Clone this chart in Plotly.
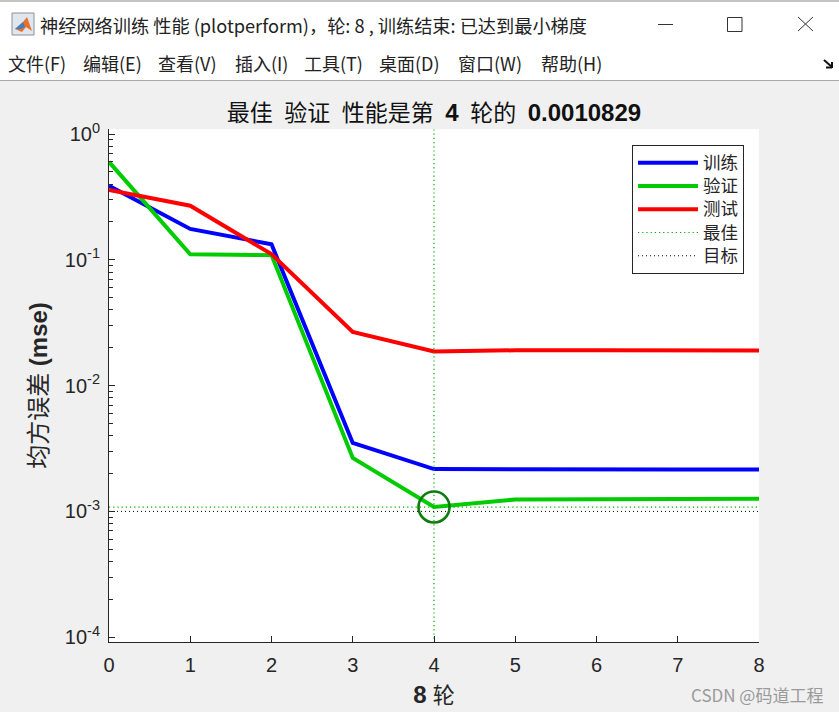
import plotly.graph_objects as go

epochs = [0, 1, 2, 3, 4, 5, 6, 7, 8]
train_mse = [0.388, 0.176, 0.133, 0.0035, 0.00217, 0.00215, 0.00215, 0.00215, 0.00215]
val_mse = [0.60, 0.1106, 0.109, 0.00266, 0.0010829, 0.001245, 0.00125, 0.00126, 0.00126]
test_mse = [0.359, 0.269, 0.111, 0.0267, 0.01867, 0.0191, 0.0191, 0.019, 0.019]
best_epoch = 4
best_perf = 0.0010829
goal = 0.001

y_major = [1, 0.1, 0.01, 0.001, 0.0001]
y_exponents = ["0", "-1", "-2", "-3", "-4"]
y_minor = [m * d for d in y_major[1:] for m in range(2, 10)]

window_title = "神经网络训练 性能 (plotperform)，轮: 8 , 训练结束: 已达到最小梯度"
menu_items = ["文件(F)", "编辑(E)", "查看(V)", "插入(I)", "工具(T)", "桌面(D)", "窗口(W)", "帮助(H)"]
menu_x = [8, 83, 158, 235, 304, 379, 458, 541]

W, H = 839, 712
L, R, T, B = 109, 80, 129, 70
CJK = "Noto Sans CJK SC"
SANS = "Liberation Sans, Noto Sans CJK SC"
INK = "#262626"
BG = "#f0f0f0"

y_labels = [f'10<sup><span style="font-size:14.5px">{e}</span></sup>' for e in y_exponents]


def px(x):
    return (x - L) / (W - L - R)


def py(y):
    return 1 - (y - T) / (H - T - B)


def box(x0, y0, x1, y1, **kw):
    return dict(type="rect", xref="paper", yref="paper", layer="below",
                x0=px(x0), x1=px(x1), y0=py(y0), y1=py(y1), **kw)


def seg(x0, y0, x1, y1, color="#333333", width=1):
    return dict(type="line", xref="paper", yref="paper",
                x0=px(x0), x1=px(x1), y0=py(y0), y1=py(y1),
                line=dict(color=color, width=width))


def label(x, y, text, size=18, color="#222222", anchor="left"):
    return dict(xref="paper", yref="paper", x=px(x), y=py(y), text=text, showarrow=False,
                xanchor=anchor, yanchor="middle", font=dict(family=CJK, size=size, color=color))


def big(text):
    return f'<span style="font-size:24px"><b>{text}</b></span>'


def entry(text):
    return f'<span style="font-size:17.5px">{text}</span>'


fig = go.Figure()
fig.add_trace(go.Scatter(x=epochs, y=train_mse, mode="lines", name=entry("训练"), line=dict(color="#0000ff", width=4)))
fig.add_trace(go.Scatter(x=epochs, y=val_mse, mode="lines", name=entry("验证"), line=dict(color="#00cc00", width=4)))
fig.add_trace(go.Scatter(x=epochs, y=test_mse, mode="lines", name=entry("测试"), line=dict(color="#ff0000", width=4)))
fig.add_trace(go.Scatter(
    x=[epochs[0], epochs[-1], None, best_epoch, best_epoch],
    y=[best_perf, best_perf, None, y_major[-1] * 0.9, y_major[0] * 1.1],
    mode="lines", name=entry("最佳"), line=dict(color="#00a800", width=1.2, dash="1.2px,3px"),
))
fig.add_trace(go.Scatter(
    x=[epochs[0], epochs[-1]], y=[goal, goal],
    mode="lines", name=entry("目标"), line=dict(color="#000000", width=1, dash="1px,3px"),
))
fig.add_trace(go.Scatter(
    x=[best_epoch], y=[best_perf], mode="markers", showlegend=False,
    marker=dict(symbol="circle-open", size=31, color="#0b7d0b", line=dict(color="#0b7d0b", width=2.6)),
))

shapes = [
    box(0, 0, W, 2, fillcolor="#c4c4c4", line_width=0),
    box(0, 2, W, 80, fillcolor="#ffffff", line_width=0),
    box(0, 80, W, 81, fillcolor="#a8a8a8", line_width=0),
    # matlab icon
    box(12, 13, 34, 35, fillcolor="#dfe6ee", line=dict(color="#8a9099", width=1)),
    dict(type="path", xref="paper", yref="paper",
         path=f"M {px(15)} {py(29)} L {px(23)} {py(22)} L {px(27)} {py(17)} L {px(32)} {py(31)} L {px(26)} {py(27)} L {px(22)} {py(32)} Z",
         fillcolor="#e8702a", line_width=0),
    dict(type="path", xref="paper", yref="paper",
         path=f"M {px(15)} {py(29)} L {px(23)} {py(22)} L {px(25)} {py(27)} L {px(21)} {py(29)} Z",
         fillcolor="#3d7fc1", line_width=0),
    # window buttons
    seg(658, 24.5, 673, 24.5),
    dict(type="rect", xref="paper", yref="paper", x0=px(727.5), x1=px(742), y0=py(17.5), y1=py(31.5),
         line=dict(color="#333333", width=1)),
    seg(798, 17, 813, 31),
    seg(813, 17, 798, 31),
    # resize arrow in the toolbar corner
    seg(824, 60, 832, 67, color="#111111", width=2),
    seg(832, 62, 832, 68, color="#111111", width=2),
    seg(826, 67.5, 832, 67.5, color="#111111", width=2),
]

annotations = [label(38, 25, window_title, size=18.2)]
annotations += [label(x - 2, 63, t, size=18) for x, t in zip(menu_x, menu_items)]
annotations.append(label(825, 694, "CSDN @码道工程", size=17, color="#9a9a9a", anchor="right"))

fig.update_layout(
    width=W,
    height=H,
    margin=dict(l=L, r=R, t=T, b=B, pad=0),
    paper_bgcolor=BG,
    plot_bgcolor="#ffffff",
    shapes=shapes,
    annotations=annotations,
    title=dict(
        text=f"最佳\u2002验证\u2002性能是第\u2002{big('4')}\u2002轮的\u2002{big('0.0010829')}",
        x=0.5, xref="paper", xanchor="center", y=1 - 113 / H, yanchor="middle",
        font=dict(family=SANS, size=23, color="#111111"),
    ),
    legend=dict(
        x=px(632), y=py(145), xanchor="left", yanchor="top",
        bgcolor="#ffffff", bordercolor=INK, borderwidth=1,
        itemwidth=60, font=dict(family=CJK, size=15.6, color=INK),
    ),
    xaxis=dict(
        automargin=False,
        range=[0, 8], tickvals=epochs, ticks="inside", ticklen=6, tickcolor=INK, tickwidth=1,
        showgrid=False, zeroline=False, showline=True, linecolor=INK, linewidth=1,
        tickfont=dict(family=SANS, size=20, color=INK), ticklabelstandoff=5,
        title=dict(text=f"{big('8')} 轮", standoff=12, font=dict(family=SANS, size=22, color=INK)),
    ),
    yaxis=dict(
        automargin=False,
        type="log", range=[-4.038, 0.04], tickvals=y_major, ticktext=y_labels,
        ticks="inside", ticklen=6, tickcolor=INK, tickwidth=1,
        minor=dict(tickvals=y_minor, ticks="inside", ticklen=3.5, tickcolor=INK, tickwidth=1, showgrid=False),
        showgrid=False, zeroline=False, showline=True, linecolor=INK, linewidth=1,
        tickfont=dict(family=SANS, size=20, color=INK), ticklabelstandoff=4,
        title=dict(text=f"均方误差 {big('(mse)')}", standoff=10, font=dict(family=SANS, size=24, color=INK)),
    ),
)

fig.write_html("out.html", config={"displayModeBar": False},
               post_script="document.body.style.margin='0';document.body.style.overflow='hidden';")
